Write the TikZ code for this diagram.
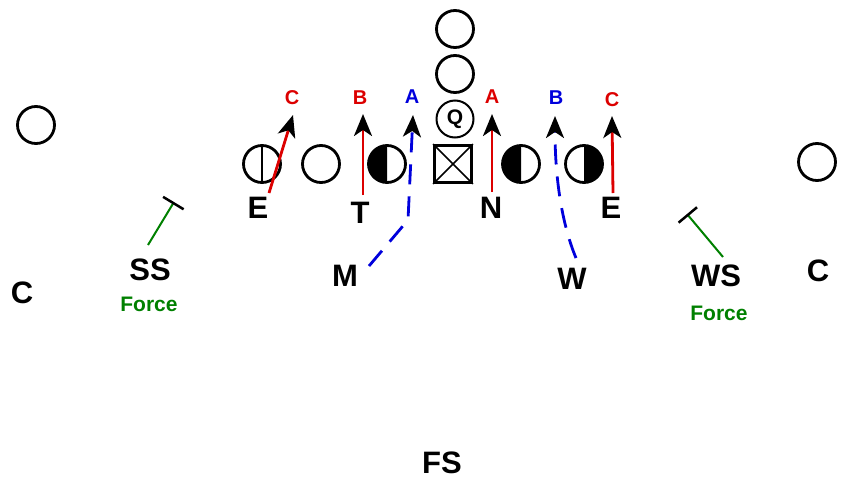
\documentclass[tikz,border=0pt]{standalone}
\usepackage{fontspec}
\setmainfont{Liberation Sans}
\usetikzlibrary{arrows.meta}
\definecolor{gapred}{RGB}{220,0,0}
\definecolor{gapblue}{RGB}{0,0,220}
\definecolor{forcegreen}{RGB}{0,128,0}

\begin{document}
\begin{tikzpicture}[x=1pt,y=-1pt,
        player/.style={circle,draw,line width=2.8pt,minimum size=37pt,inner sep=0pt},
        poslbl/.style={font=\fontsize{31}{31}\selectfont\bfseries},
        gap/.style={font=\fontsize{20}{20}\selectfont\bfseries},
        forcelbl/.style={font=\fontsize{21}{21}\selectfont\bfseries,forcegreen},
        rush/.style={gapred,line width=2.8pt,-{Stealth[black,length=22pt,width=18pt,inset=6pt]}},
        drop/.style={gapblue,line width=2.8pt,dash pattern=on 20pt off 12pt,-{Stealth[black,length=22pt,width=18pt,inset=6pt]}},
        force/.style={forcegreen,line width=2pt,-{Bar[black,width=24pt,line width=2.5pt]}}]
        \useasboundingbox (0,0) rectangle (846,493);

        \node[player] (wrL) at (36,125) {};
        \node[player] (wrR) at (817,162) {};
        \node[player] (rb1) at (455,29) {};
        \node[player] (rb2) at (455,74) {};
        \node[player,line width=2pt,font=\fontsize{21}{21}\selectfont\bfseries] (qb) at (455,119) {Q};
        \node[draw,line width=2.8pt,minimum size=37pt,inner sep=0pt] (ctr) at (453,164) {};
        \draw[line width=1.5pt] (ctr.north west) -- (ctr.south east) (ctr.north east) -- (ctr.south west);

        \node[player] (te) at (262,164) {};
        \draw[line width=2.5pt] (te.north) -- (te.south);
        \node[player] (lt) at (321,164) {};
        \node[player] (lg) at (387,164) {};
        \fill (lg.center) ++(0,18.5) arc[start angle=90,end angle=270,radius=18.5] -- cycle;
        \node[player] (rg) at (521,164) {};
        \fill (rg.center) ++(0,18.5) arc[start angle=90,end angle=270,radius=18.5] -- cycle;
        \node[player] (rt) at (584,164) {};
        \fill (rt.center) ++(0,-18.5) arc[start angle=-90,end angle=90,radius=18.5] -- cycle;

        \node[gap,gapred] (gC1) at (292,98) {C};
        \node[gap,gapred] (gB1) at (360,98) {B};
        \node[gap,gapblue] (gA1) at (412,97) {A};
        \node[gap,gapred] (gA2) at (492,97) {A};
        \node[gap,gapblue] (gB2) at (556,98) {B};
        \node[gap,gapred] (gC2) at (612,100) {C};

        \node[poslbl] (eL) at (258,208) {E};
        \node[poslbl] (tk) at (360,213) {T};
        \node[poslbl] (ng) at (491,208) {N};
        \node[poslbl] (eR) at (611,208) {E};
        \node[poslbl] (mike) at (345,276) {M};
        \node[poslbl] (will) at (572,279) {W};
        \node[poslbl] (ss) at (150,270) {SS};
        \node[poslbl] (ws) at (716,276) {WS};
        \node[poslbl] (cL) at (22,293) {C};
        \node[poslbl] (cR) at (818,271) {C};
        \node[poslbl] (fs) at (442,463) {FS};
        \node[forcelbl] (fL) at (149,304) {Force};
        \node[forcelbl] (fR) at (719,313) {Force};

        \coordinate (sC1) at (269,193);
        \coordinate (tC1) at (293,115);
        \coordinate (sB1) at (363,195);
        \coordinate (tB1) at (363,114);
        \coordinate (sA2) at (492,192);
        \coordinate (tA2) at (492,114);
        \coordinate (sC2) at (613,193);
        \coordinate (tC2) at (612,116);
        \draw[rush] (sC1) -- (tC1);
        \draw[rush] (sB1) -- (tB1);
        \draw[rush] (sA2) -- (tA2);
        \draw[rush] (sC2) -- (tC2);

        \coordinate (sM) at (369,266);
        \coordinate (kM) at (408,220);
        \coordinate (tA1) at (413,115);
        \coordinate (sW) at (576,258);
        \coordinate (tB2) at (555,116);
        \draw[drop] (sM) -- (kM) -- (tA1);
        \draw[drop] (sW) .. controls (561,222) and (555,175) .. (tB2);

        \coordinate (sSS) at (148,245);
        \coordinate (tSS) at (174,202);
        \coordinate (sWS) at (723,257);
        \coordinate (tWS) at (687,214);
        \draw[force] (sSS) -- (tSS);
        \draw[force] (sWS) -- (tWS);
    \end{tikzpicture}
\end{document}
